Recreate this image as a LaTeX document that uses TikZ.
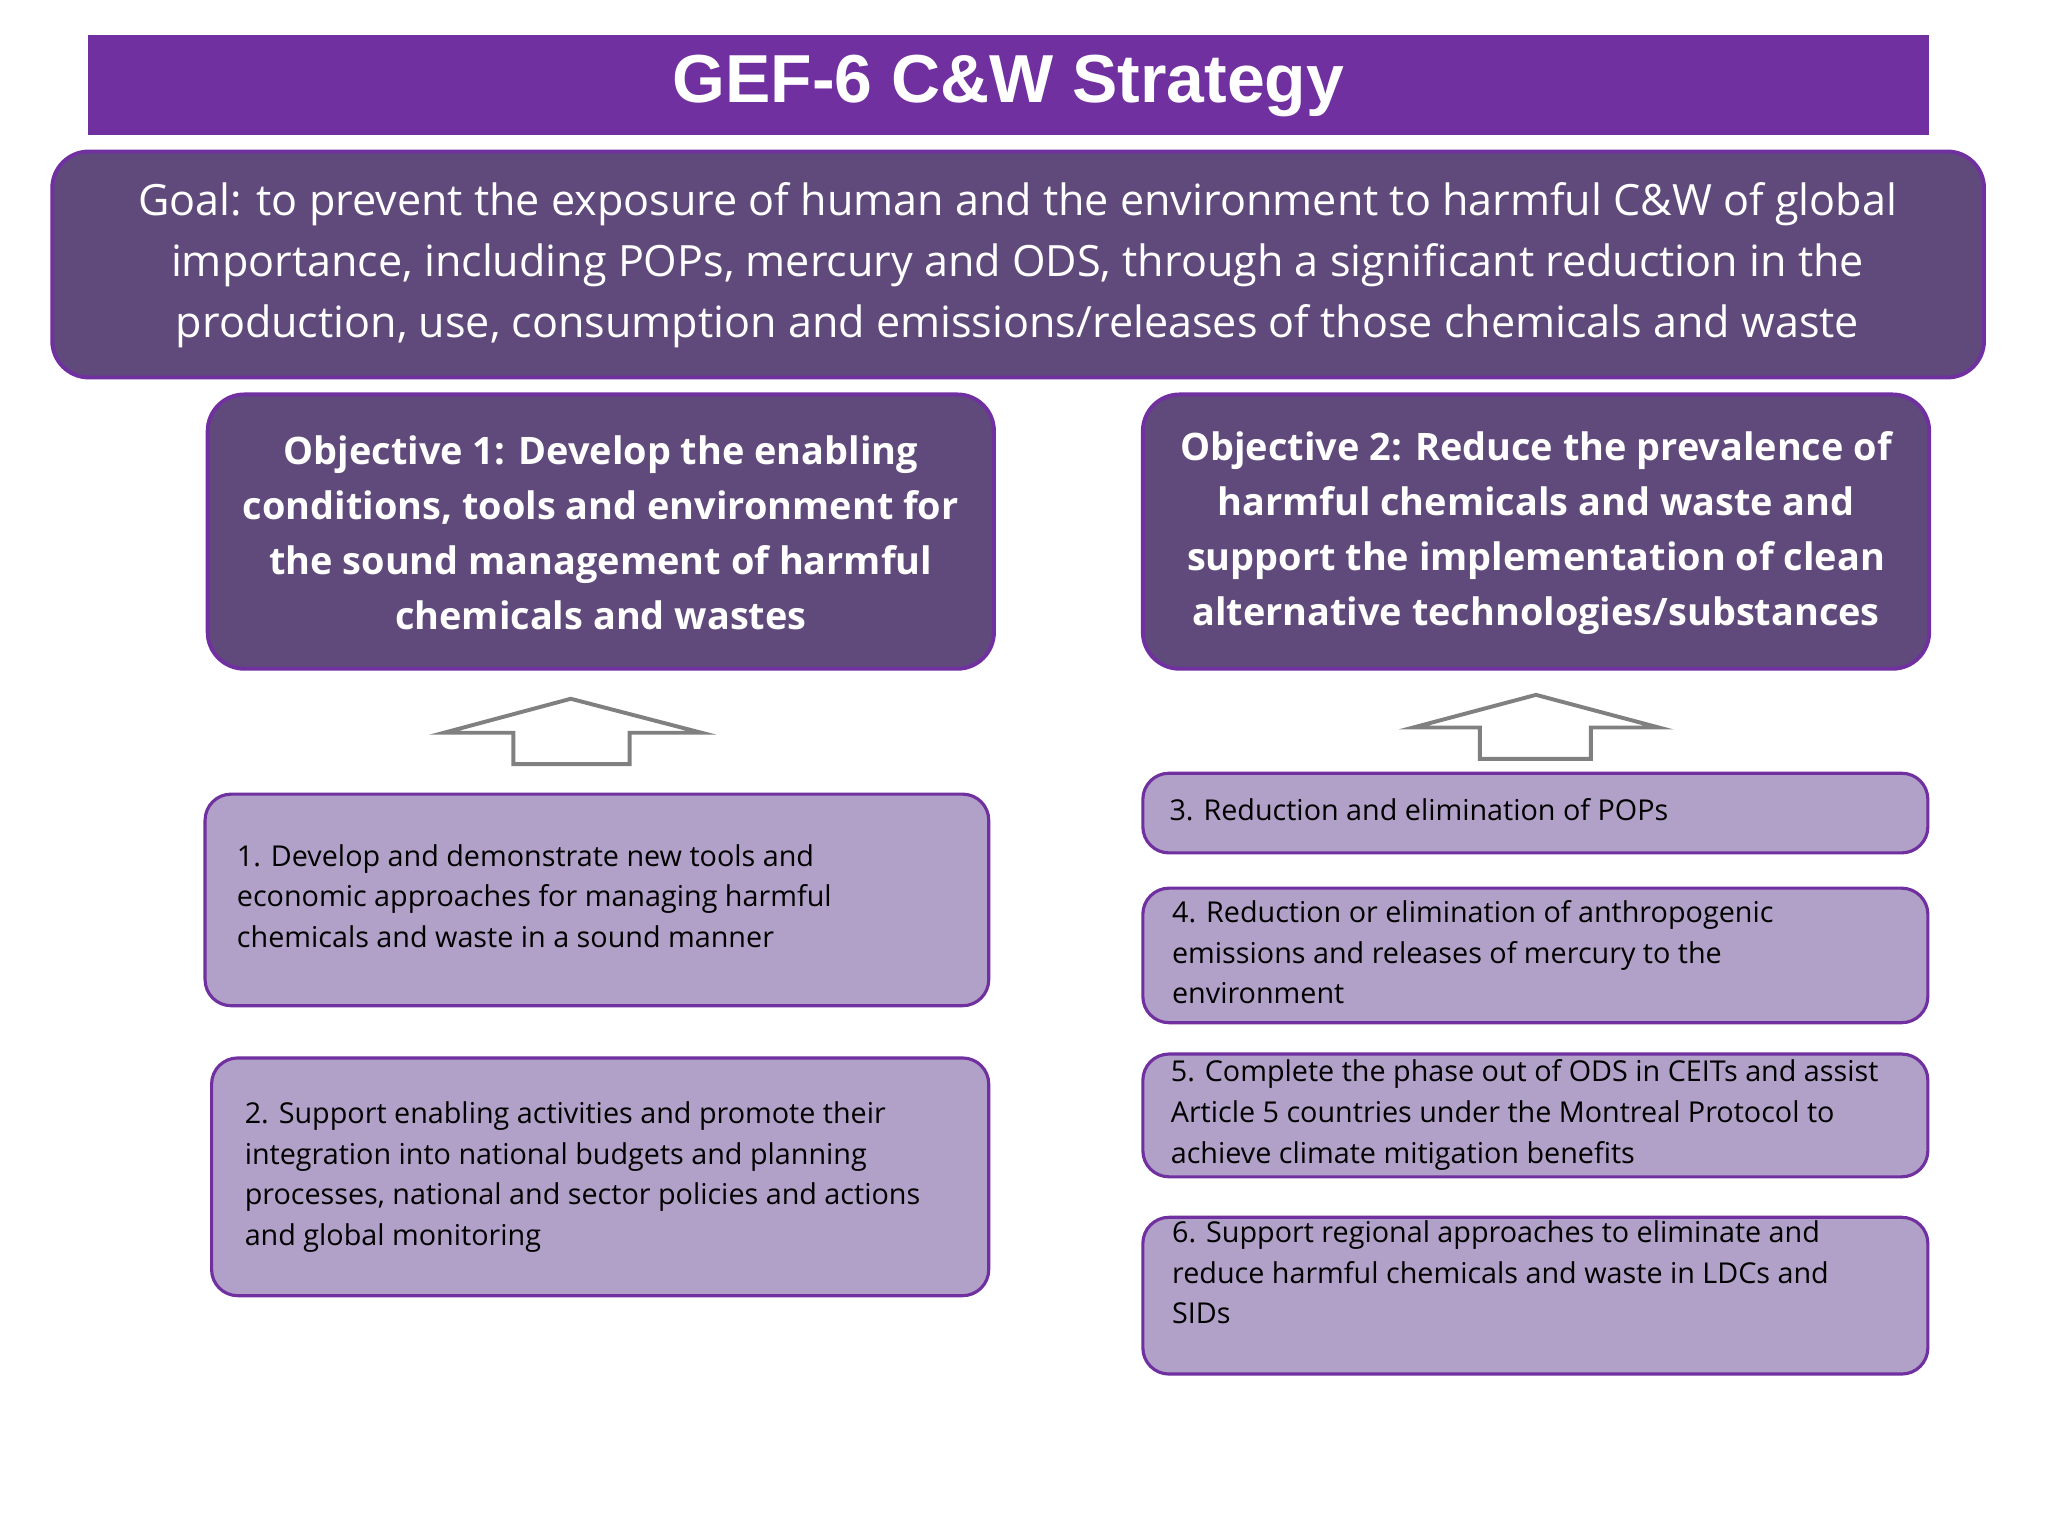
\documentclass[tikz,border=0pt]{standalone}
\usepackage{fontspec}
\setmainfont{Open Sans}
\newfontfamily\titlefont{Liberation Sans}
\definecolor{tpurple}{HTML}{7030A0}
\definecolor{dpurple}{HTML}{604A7B}
\definecolor{lpurple}{HTML}{B1A0C7}
\definecolor{agrey}{HTML}{808080}
\tikzset{
  bigbox/.style={draw=tpurple,line width=1.5pt,fill=dpurple,rounded corners=14pt},
  smallbox/.style={draw=tpurple,line width=1.2pt,fill=lpurple,rounded corners=10pt},
  smalltext/.style={anchor=north west,align=left,inner sep=0pt,font=\fontsize{11}{15.6}\selectfont,text=black},
  objtext/.style={align=center,inner sep=0pt,text=white,font=\bfseries\fontsize{14.5}{21}\selectfont},
  uparrow/.style={draw=agrey,line width=1.5pt,fill=white}
}
\begin{document}
\begin{tikzpicture}[x=0.5pt,y=-0.5pt]
\useasboundingbox (0,0) rectangle (1568,1176);
\fill[white] (0,0) rectangle (1568,1176);
% title
\fill[tpurple] (67,27) rectangle (1477,103);
\node[font=\titlefont\bfseries\fontsize{26}{30}\selectfont,text=white] (title) at (772,66) {GEF-6 C\&W Strategy};
% goal
\draw[bigbox] (40,116) rectangle (1519,289);
\node[align=center,text=white,font=\fontsize{16.5}{23.5}\selectfont] (goal) at (779,203) {Goal: to prevent the exposure of human and the environment to harmful C\&W of global\\importance, including POPs, mercury and ODS, through a significant reduction in the\\production, use, consumption and emissions/releases of those chemicals and waste};
% objectives
\draw[bigbox] (159,302) rectangle (761,512);
\node[objtext] (obj1) at (460,408) {Objective 1: Develop the enabling\\conditions, tools and environment for\\the sound management of harmful\\chemicals and wastes};
\draw[bigbox] (875,302) rectangle (1477,512);
\node[objtext] (obj2) at (1176,408) {Objective 2: Reduce the prevalence of\\harmful chemicals and waste and\\support the implementation of clean\\alternative technologies/substances};
% arrows
\draw[uparrow] (437,535) -- (537,561) -- (482,561) -- (482,585) -- (393,585) -- (393,561) -- (340,561) -- cycle;
\draw[uparrow] (1176,532) -- (1270,557) -- (1218,557) -- (1218,581) -- (1133,581) -- (1133,557) -- (1082,557) -- cycle;
% left boxes
\draw[smallbox] (157,608) rectangle (757,770);
\node[smalltext] (b1) at (181,646) {1. Develop and demonstrate new tools and\\economic approaches for managing harmful\\chemicals and waste in a sound manner};
\draw[smallbox] (162,810) rectangle (757,992);
\node[smalltext] (b2) at (187,843) {2. Support enabling activities and promote their\\integration into national budgets and planning\\processes, national and sector policies and actions\\and global monitoring};
% right boxes
\draw[smallbox] (875,592) rectangle (1476,653);
\node[smalltext] (b3) at (895,611) {3. Reduction and elimination of POPs};
\draw[smallbox] (875,680) rectangle (1476,783);
\node[smalltext] (b4) at (897,689) {4. Reduction or elimination of anthropogenic\\emissions and releases of mercury to the\\environment};
\draw[smallbox] (875,807) rectangle (1476,901);
\node[smalltext] (b5) at (896,811) {5. Complete the phase out of ODS in CEITs and assist\\Article 5 countries under the Montreal Protocol to\\achieve climate mitigation benefits};
\draw[smallbox] (875,932) rectangle (1476,1052);
\node[smalltext] (b6) at (897,934) {6. Support regional approaches to eliminate and\\reduce harmful chemicals and waste in LDCs and\\SIDs};
\end{tikzpicture}
\end{document}
